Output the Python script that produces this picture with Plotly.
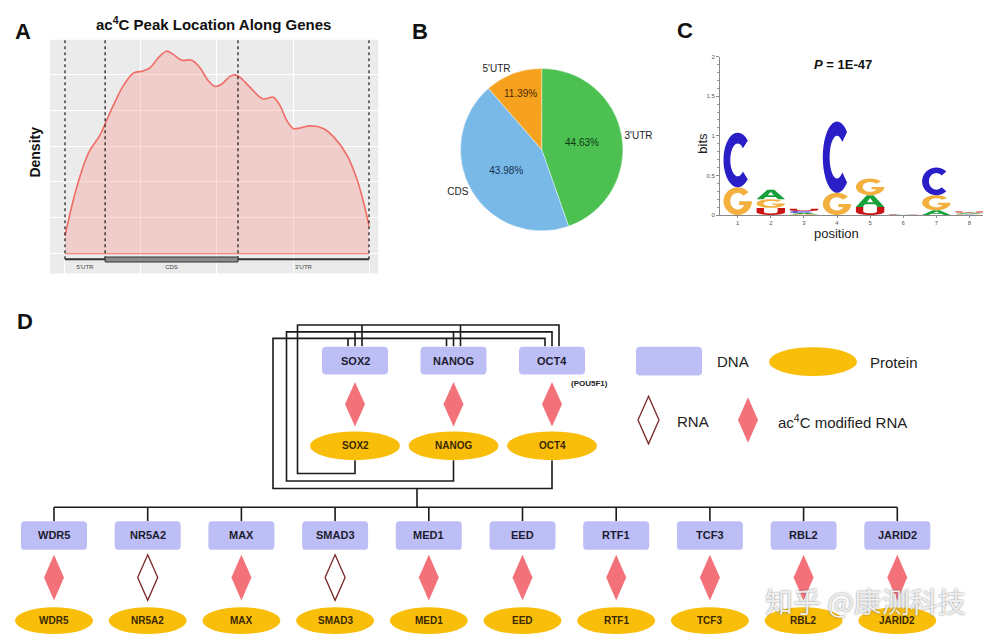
import math
import plotly.graph_objects as go

FONT = "Liberation Sans, Arial, sans-serif"

# ---- panel A: ac4C peak density along a metagene (0 = 5' end, 1 = 3' end)
dens_x = [0, .038, .077, .115, .132, .159, .192, .225, .258, .280, .307, .334,
          .356, .384, .417, .444, .471, .493, .515, .543, .559, .576, .609, .652,
          .685, .707, .729, .751, .773, .806, .850, .883, .927, .959, .981, 1.0]
dens_y = [0.50, 1.83, 2.80, 3.30, 3.62, 4.13, 4.68, 5.03, 5.09, 5.18, 5.46, 5.64,
          5.55, 5.39, 5.39, 5.18, 4.82, 4.66, 4.72, 4.94, 4.98, 4.91, 4.63, 4.31,
          4.36, 4.13, 3.72, 3.49, 3.50, 3.56, 3.49, 3.26, 2.75, 2.11, 1.47, 0.78]
region_names = ["5'UTR", "CDS", "3'UTR"]
region_bounds = [0, 0.132, 0.569, 1.0]

# ---- panel B: peak distribution
pie_labels = ["3'UTR", "CDS", "5'UTR"]
pie_values = [44.63, 43.98, 11.39]
pie_colors = ["#4CC152", "#78B9E8", "#F6A21F"]
pie_text_colors = ["#0E3A12", "#13304F", "#4A2A00"]

# ---- panel C: motif (bits per letter per position)
logo_positions = [1, 2, 3, 4, 5, 6, 7, 8]
logo_A = [0.00, 0.12, 0.015, 0.00, 0.15, 0.003, 0.06, 0.015]
logo_C = [0.69, 0.00, 0.025, 0.90, 0.00, 0.003, 0.35, 0.005]
logo_G = [0.35, 0.11, 0.010, 0.28, 0.21, 0.003, 0.19, 0.010]
logo_U = [0.00, 0.09, 0.030, 0.00, 0.10, 0.003, 0.00, 0.015]

# ---- panel D: regulatory network
core_genes = ["SOX2", "NANOG", "OCT4"]
core_ac4c = [True, True, True]
target_genes = ["WDR5", "NR5A2", "MAX", "SMAD3", "MED1", "EED", "RTF1", "TCF3", "RBL2", "JARID2"]
target_ac4c = [True, False, True, False, True, True, True, True, True, True]

BOX = "#BEBEF6"
PROT = "#F9BE0A"
DIA = "#F3727A"
DIA_EDGE = "#7A2525"
WIRE = "#1a1a1a"

shapes = []
notes = []


def note(x, y, text, size, bold=True, color="#111", xanchor="center", angle=0, family=FONT, **kw):
    if bold:
        text = "<b>" + text + "</b>"
    notes.append(dict(x=x, y=y, xref="x3", yref="y3", text=text, showarrow=False,
                      xanchor=xanchor, yanchor="middle", textangle=angle,
                      font=dict(family=family, size=size, color=color, **kw)))


def rrect(cx, cy, w, h, r=4):
    x0, x1, y0, y1 = cx - w / 2, cx + w / 2, cy - h / 2, cy + h / 2
    return (f"M{x0+r},{y0} L{x1-r},{y0} Q{x1},{y0} {x1},{y0+r} L{x1},{y1-r} "
            f"Q{x1},{y1} {x1-r},{y1} L{x0+r},{y1} Q{x0},{y1} {x0},{y1-r} "
            f"L{x0},{y0+r} Q{x0},{y0} {x0+r},{y0} Z")


def diamond(cx, cy, w, h):
    return f"M{cx},{cy-h/2} L{cx+w/2},{cy} L{cx},{cy+h/2} L{cx-w/2},{cy} Z"


def dna_box(cx, cy, w=66, h=29):
    shapes.append(dict(type="path", xref="x3", yref="y3", path=rrect(cx, cy, w, h),
                       fillcolor=BOX, line=dict(width=0)))


def protein(cx, cy, w, h):
    shapes.append(dict(type="circle", xref="x3", yref="y3", x0=cx - w / 2, x1=cx + w / 2,
                       y0=cy - h / 2, y1=cy + h / 2, fillcolor=PROT, line=dict(width=0)))


def rna(cx, cy, modified, w=20, h=46):
    if modified:
        shapes.append(dict(type="path", xref="x3", yref="y3", path=diamond(cx, cy, w, h),
                           fillcolor=DIA, line=dict(width=0)))
    else:
        shapes.append(dict(type="path", xref="x3", yref="y3", path=diamond(cx, cy, w, h),
                           fillcolor="white", line=dict(color=DIA_EDGE, width=1.3)))


def wire(path):
    shapes.append(dict(type="path", xref="x3", yref="y3", path=path,
                       line=dict(color=WIRE, width=1.6)))


fig = go.Figure()

# ================= A =================
fig.add_trace(go.Scatter(x=dens_x, y=dens_y, mode="lines", line=dict(color="#F06C66", width=1.6, shape="spline"),
                         fill="tozeroy", fillcolor="rgba(248,118,109,0.26)", hoverinfo="skip",
                         xaxis="x", yaxis="y"))
shapes.append(dict(type="rect", xref="x domain", yref="y domain", x0=0, x1=1, y0=0, y1=1,
                   fillcolor="#EBEBEB", line=dict(width=0), layer="below"))
shapes.append(dict(type="line", xref="x", yref="y", x0=region_bounds[0], x1=region_bounds[-1], y0=0, y1=0,
                   line=dict(color="#F06C66", width=1)))
for b in region_bounds:
    shapes.append(dict(type="line", xref="x", yref="y", x0=b, x1=b, y0=-0.156, y1=5.96,
                       line=dict(color="#222", width=1.3, dash="dot")))
shapes.append(dict(type="line", xref="x", yref="y", x0=region_bounds[0], x1=region_bounds[-1],
                   y0=-0.156, y1=-0.156, line=dict(color="#333", width=2)))
shapes.append(dict(type="rect", xref="x", yref="y", x0=region_bounds[1], x1=region_bounds[2],
                   y0=-0.09, y1=-0.23, fillcolor="#8c8c8c", line=dict(color="#333", width=1)))
fig.add_trace(go.Scatter(x=[(region_bounds[i] + region_bounds[i + 1]) / 2 for i in range(3)],
                         y=[-0.38] * 3, mode="text", text=region_names,
                         textfont=dict(family=FONT, size=6, color="#444"), hoverinfo="skip",
                         xaxis="x", yaxis="y"))

# ================= B =================
fig.add_trace(go.Pie(labels=pie_labels, values=pie_values, sort=False, direction="clockwise", rotation=0,
                     marker=dict(colors=pie_colors, line=dict(color="white", width=0.4)),
                     texttemplate="%{value:.2f}%", textposition="inside", insidetextorientation="horizontal",
                     textfont=dict(family=FONT, size=10, color=pie_text_colors),
                     domain=dict(x=[0.4602, 0.6243], y=[0.6429, 0.8975]), hoverinfo="skip"))
fig.add_trace(go.Pie(labels=pie_labels, values=pie_values, sort=False, direction="clockwise", rotation=0,
                     marker=dict(colors=["rgba(0,0,0,0)"] * 3, line=dict(width=0)),
                     texttemplate="%{label}", textposition="outside",
                     textfont=dict(family=FONT, size=10, color="#222"),
                     domain=dict(x=[0.4602, 0.6243], y=[0.6429, 0.8975]), hoverinfo="skip"))

# ================= C =================
def arc(cx, cy, rx, ry, a0, a1, n=30):
    pts = []
    for i in range(n + 1):
        t = math.radians(a0 + (a1 - a0) * i / n)
        pts.append((cx + rx * math.cos(t), cy + ry * math.sin(t)))
    return pts


GLYPHS = {
    "C": [arc(.5, .5, .5, .5, 45, 315) + arc(.5, .5, .26, .3, 315, 45)],
    "G": [arc(.5, .5, .5, .5, 40, 360) + [(.55, .5), (.55, .36)] + arc(.5, .5, .26, .3, 330, 40)],
    "U": [[(0, 1)] + arc(.5, .42, .5, .42, 180, 360) + [(1, 1), (.74, 1)]
          + arc(.5, .42, .24, .2, 360, 180) + [(.26, 1)]],
    "A": [[(0, 0), (.24, 0), (.32, .24), (.68, .24), (.76, 0), (1, 0), (.62, 1), (.38, 1)],
          [(.39, .40), (.5, .76), (.61, .40)]],
}
LETTER_COLORS = {"A": "#16A03A", "C": "#2A1FC6", "G": "#F4B03E", "U": "#C81414"}
logo = {"A": logo_A, "C": logo_C, "G": logo_G, "U": logo_U}

for i, pos in enumerate(logo_positions):
    stack = sorted((logo[l][i], l) for l in logo if logo[l][i] > 0)
    base = 0.0
    for h, l in stack:
        parts = []
        for poly in GLYPHS[l]:
            pts = [(pos - 0.43 + 0.86 * u, base + h * v) for u, v in poly]
            parts.append("M" + " L".join(f"{x:.4f},{y:.5f}" for x, y in pts) + " Z")
        shapes.append(dict(type="path", xref="x2", yref="y2", path=" ".join(parts),
                           fillcolor=LETTER_COLORS[l], line=dict(width=0)))
        base += h
fig.add_trace(go.Scatter(x=[], y=[], xaxis="x2", yaxis="y2", hoverinfo="skip"))

# ================= D =================
core_x0, core_dx = 355, 98.5
target_x0, target_dx = 54, 93.7
core_box_y, core_rna_y, core_prot_y = 361, 405, 447
tgt_box_y, tgt_rna_y, tgt_prot_y = 537.5, 580, 623.5
loop_top = [325, 332, 338.5]
loop_left = [297.5, 286.5, 273]
loop_bottom = [475, 482.5, 490]
stub_off = [7, 0, -7]
hub_x, bus_y = 417, 509

core_xs = [core_x0 + core_dx * i for i in range(len(core_genes))]
target_xs = [target_x0 + target_dx * i for i in range(len(target_genes))]

for k, cx in enumerate(core_xs):
    # protein k binds every core gene
    p = (f"M{cx},{core_prot_y + 14.5} L{cx},{loop_bottom[k]} L{loop_left[k]},{loop_bottom[k]} "
         f"L{loop_left[k]},{loop_top[k]} L{core_xs[-1] + stub_off[k]},{loop_top[k]} "
         f"L{core_xs[-1] + stub_off[k]},{core_box_y - 14.5}")
    for bx in core_xs[:-1]:
        p += f" M{bx + stub_off[k]},{loop_top[k]} L{bx + stub_off[k]},{core_box_y - 14.5}"
    wire(p)
p = f"M{hub_x},{loop_bottom[-1]} L{hub_x},{bus_y} M{target_xs[0]},{bus_y} L{target_xs[-1]},{bus_y}"
for tx in target_xs:
    p += f" M{tx},{bus_y} L{tx},{tgt_box_y - 14.5}"
wire(p)

for name, mod, cx in zip(core_genes, core_ac4c, core_xs):
    dna_box(cx, core_box_y, 66, 28)
    rna(cx, core_rna_y, mod, 20, 45)
    protein(cx, core_prot_y, 90, 29)
    note(cx, core_box_y, name, 11, color="#1c1c30")
    note(cx, core_prot_y, name, 10, color="#3a2800")
note(589, 384, "(POU5F1)", 8, color="#222")

for name, mod, tx in zip(target_genes, target_ac4c, target_xs):
    dna_box(tx, tgt_box_y, 66, 29)
    rna(tx, tgt_rna_y, mod, 20, 46)
    protein(tx, tgt_prot_y, 78, 27)
    note(tx, tgt_box_y, name, 11, color="#1c1c30")
    note(tx, tgt_prot_y, name, 10, color="#3a2800")

# legend
dna_box(669, 361.5, 66, 29)
note(715, 362, "DNA", 15, bold=False, color="#222", xanchor="left")
protein(813, 362, 88, 29)
note(868, 363, "Protein", 15, bold=False, color="#222", xanchor="left")
rna(648.5, 421, False, 21, 48)
note(675, 422, "RNA", 15, bold=False, color="#222", xanchor="left")
rna(748, 421, True, 20, 46)
note(776, 422, "ac<sup>4</sup>C modified RNA", 15, bold=False, color="#222", xanchor="left")

# panel texts
note(22.5, 29, "A", 22, color="#111")
note(419.5, 29, "B", 22, color="#111")
note(685, 28, "C", 22, color="#111")
note(25, 321, "D", 22, color="#111")
note(213, 21, "ac<sup>4</sup>C Peak Location Along Genes", 15)
note(35, 151, "Density", 14, angle=-90)
note(843, 62, "<i>P</i> = 1E-47", 13)
note(703, 142, "bits", 13, bold=False, angle=-90, color="#222")
note(836, 233, "position", 13, bold=False, color="#222")
note(865, 604, "知乎 @康测科技", 28, bold=False, color="rgba(255,255,255,0.85)",
     family="Noto Sans CJK SC", shadow="0px 0px 2px rgba(80,80,80,0.9)")

fig.add_trace(go.Scatter(x=[], y=[], xaxis="x3", yaxis="y3", hoverinfo="skip"))

fig.update_layout(
    width=999, height=644, margin=dict(l=0, r=0, t=0, b=0),
    paper_bgcolor="white", plot_bgcolor="rgba(0,0,0,0)", showlegend=False,
    shapes=shapes, annotations=notes,
    xaxis=dict(domain=[0.05005, 0.3787], range=[-0.0493, 1.0306], anchor="y",
               showgrid=True, gridcolor="white", gridwidth=1, tick0=0, dtick=0.25,
               showticklabels=False, ticks="", zeroline=False, showline=False, fixedrange=True),
    yaxis=dict(domain=[0.576, 0.9425], range=[-0.55, 5.96], anchor="x",
               showgrid=True, gridcolor="white", gridwidth=1, tick0=0, dtick=1,
               showticklabels=False, ticks="", zeroline=False, showline=False, fixedrange=True),
    xaxis2=dict(domain=[0.7207, 0.984], range=[0.465, 8.41], anchor="y2",
                tickvals=logo_positions, ticks="outside", ticklen=2, tickcolor="#888",
                tickfont=dict(family=FONT, size=6, color="#555"),
                showline=True, linecolor="#888", linewidth=1, showgrid=False, zeroline=False),
    yaxis2=dict(domain=[0.6677, 0.916], range=[0, 2], anchor="x2",
                tickvals=[0, 0.5, 1, 1.5, 2], ticks="outside", ticklen=3, tickcolor="#888",
                minor=dict(ticks="outside", ticklen=1.5, dtick=0.1, tickcolor="#999"),
                tickfont=dict(family=FONT, size=6, color="#555"),
                showline=True, linecolor="#888", linewidth=1, showgrid=False, zeroline=False),
    xaxis3=dict(domain=[0, 1], range=[0, 999], anchor="y3", visible=False, fixedrange=True),
    yaxis3=dict(domain=[0, 1], range=[644, 0], anchor="x3", visible=False, fixedrange=True),
)

# the page's default 8px body margin would push the figure off the window
fig.write_html("out.html", config={"displayModeBar": False},
               post_script="document.body.style.margin='0';")
